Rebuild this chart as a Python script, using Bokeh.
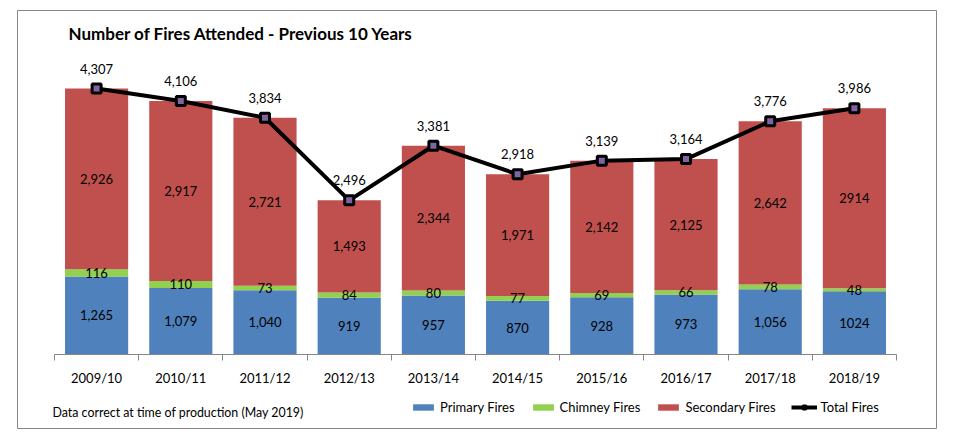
from bokeh.plotting import figure
from bokeh.models import Range1d, LinearAxis, FixedTicker, Label, ColumnDataSource
from bokeh.embed import file_html
from bokeh.resources import INLINE
from bokeh.core.properties import value

years = ["2009/10", "2010/11", "2011/12", "2012/13", "2013/14",
         "2014/15", "2015/16", "2016/17", "2017/18", "2018/19"]
primary = [1265, 1079, 1040, 919, 957, 870, 928, 973, 1056, 1024]
chimney = [116, 110, 73, 84, 80, 77, 69, 66, 78, 48]
secondary = [2926, 2917, 2721, 1493, 2344, 1971, 2142, 2125, 2642, 2914]
total = [4307, 4106, 3834, 2496, 3381, 2918, 3139, 3164, 3776, 3986]
# years whose bar labels were printed without a thousands separator
plain_label_years = ["2018/19"]

FONT = "Lato"
BLUE, GREEN, RED, PURPLE = "#4F81BD", "#92D050", "#C0504D", "#8064A2"
GREY = "#868686"


def fmt(v, yr):
    return str(v) if yr in plain_label_years else f"{v:,}"


x = [i + 0.5 for i in range(len(years))]
src = ColumnDataSource(dict(
    x=x, primary=primary, chimney=chimney, secondary=secondary, total=total,
    y_p=[p_ / 2 for p_ in primary],
    y_c=[p_ + c / 2 for p_, c in zip(primary, chimney)],
    y_s=[p_ + c + s / 2 for p_, c, s in zip(primary, chimney, secondary)],
    t_p=[fmt(v, y) for v, y in zip(primary, years)],
    t_c=[fmt(v, y) for v, y in zip(chimney, years)],
    t_s=[fmt(v, y) for v, y in zip(secondary, years)],
    t_t=[f"{v:,}" for v in total],
))

p = figure(width=948, height=429,
           x_range=Range1d(-0.4394, 10.475), y_range=Range1d(-1214, 5570),
           x_axis_location=None, y_axis_location=None,
           output_backend="svg", toolbar_location=None,
           min_border_left=17, min_border_right=12, min_border_top=10, min_border_bottom=0)
p.grid.visible = False
p.outline_line_color = GREY
p.outline_line_width = 1
p.background_fill_color = "white"

p.vbar_stack(["primary", "chimney", "secondary"], x="x", width=0.75, source=src,
             color=[BLUE, GREEN, RED], line_color=None,
             legend_label=["Primary Fires", "Chimney Fires", "Secondary Fires"])
p.line("x", "total", source=src, line_width=4, line_color="black", legend_label="Total Fires")
p.scatter("x", "total", source=src, marker="square", size=9, fill_color=PURPLE,
          line_color="black", line_width=3, legend_label="Total Fires")

for ycol, tcol, off in [("y_p", "t_p", 0), ("y_c", "t_c", 0), ("y_s", "t_s", 0), ("total", "t_t", -20)]:
    p.text("x", ycol, text=tcol, source=src, text_align="center", text_baseline="middle",
           y_offset=off, text_font=value(FONT), text_font_size="13px", text_color="black")

ax = LinearAxis(fixed_location=0,
                ticker=FixedTicker(ticks=x, minor_ticks=list(range(len(years) + 1))),
                major_label_overrides={xi: yr for xi, yr in zip(x, years)})
ax.bounds = (0, len(years))
ax.axis_line_color = GREY
ax.axis_line_width = 1
ax.major_tick_line_color = None
ax.major_tick_out = 0
ax.major_tick_in = 0
ax.minor_tick_line_color = GREY
ax.minor_tick_out = 6
ax.minor_tick_in = 0
ax.major_label_standoff = 9
ax.major_label_text_font = FONT
ax.major_label_text_font_size = "13px"
ax.major_label_text_color = "black"
p.add_layout(ax, "below")

p.add_layout(Label(x=51, y=396, x_units="screen", y_units="screen",
                   text="Number of Fires Attended - Previous 10 Years",
                   text_font=FONT, text_font_size="17px", text_font_style="bold",
                   text_color="black", text_baseline="alphabetic"))
p.add_layout(Label(x=35, y=17, x_units="screen", y_units="screen",
                   text="Data correct at time of production (May 2019)",
                   text_font=FONT, text_font_size="12.4px", text_color="black",
                   text_baseline="alphabetic"))

lg = p.legend[0]
lg.orientation = "horizontal"
lg.location = (393, 14)
lg.border_line_color = None
lg.background_fill_alpha = 0
lg.padding = 0
lg.margin = 0
lg.spacing = 15
lg.glyph_width = 26
lg.glyph_height = 8
lg.label_standoff = 4
lg.label_height = 16
lg.label_text_font = FONT
lg.label_text_font_size = "13px"
lg.label_text_color = "black"

open("out.html", "w").write(file_html(p, INLINE))
